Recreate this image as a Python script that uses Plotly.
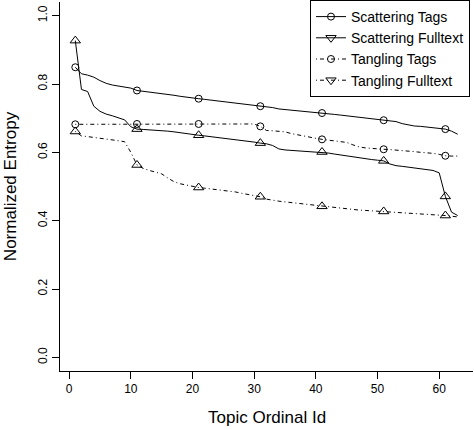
import plotly.graph_objects as go

topic_ids = list(range(1, 64))

scattering_tags = [
    0.849, 0.830, 0.826, 0.820, 0.810, 0.802, 0.797, 0.794, 0.792, 0.788,
    0.781, 0.779, 0.777, 0.775, 0.772, 0.770, 0.767, 0.764, 0.761, 0.759,
    0.757, 0.755, 0.753, 0.751, 0.749, 0.747, 0.745, 0.742, 0.740, 0.738,
    0.735, 0.734, 0.731, 0.727, 0.725, 0.724, 0.722, 0.721, 0.719, 0.717,
    0.715, 0.713, 0.711, 0.709, 0.707, 0.705, 0.703, 0.700, 0.698, 0.696,
    0.694, 0.693, 0.690, 0.684, 0.680, 0.677, 0.676, 0.674, 0.673, 0.671,
    0.668, 0.662, 0.653,
]

scattering_fulltext = [
    0.927, 0.784, 0.778, 0.735, 0.720, 0.712, 0.707, 0.702, 0.695, 0.675,
    0.668, 0.667, 0.666, 0.666, 0.665, 0.662, 0.660, 0.657, 0.655, 0.652,
    0.650, 0.648, 0.646, 0.644, 0.642, 0.640, 0.638, 0.636, 0.633, 0.630,
    0.627, 0.625, 0.620, 0.610, 0.607, 0.606, 0.605, 0.604, 0.603, 0.602,
    0.601, 0.598, 0.595, 0.592, 0.589, 0.586, 0.583, 0.581, 0.579, 0.577,
    0.575, 0.566, 0.561, 0.559, 0.557, 0.555, 0.553, 0.550, 0.547, 0.540,
    0.471, 0.425, 0.415,
]

tangling_tags = [
    0.682, 0.682, 0.682, 0.682, 0.682, 0.682, 0.682, 0.682, 0.682, 0.682,
    0.683, 0.683, 0.683, 0.683, 0.683, 0.683, 0.683, 0.683, 0.683, 0.683,
    0.683, 0.683, 0.683, 0.683, 0.683, 0.683, 0.683, 0.683, 0.683, 0.683,
    0.676, 0.664, 0.663, 0.662, 0.660, 0.655, 0.651, 0.647, 0.644, 0.641,
    0.638, 0.636, 0.633, 0.631, 0.629, 0.622, 0.616, 0.613, 0.611, 0.610,
    0.609, 0.608, 0.607, 0.605, 0.603, 0.602, 0.600, 0.599, 0.597, 0.594,
    0.590, 0.589, 0.589,
]

tangling_fulltext = [
    0.661, 0.648, 0.646, 0.644, 0.642, 0.639, 0.637, 0.634, 0.631, 0.600,
    0.563, 0.553, 0.547, 0.543, 0.537, 0.525, 0.514, 0.508, 0.504, 0.500,
    0.497, 0.495, 0.493, 0.491, 0.490, 0.487, 0.484, 0.480, 0.476, 0.473,
    0.470, 0.463, 0.459, 0.457, 0.455, 0.453, 0.451, 0.449, 0.447, 0.444,
    0.442, 0.439, 0.437, 0.436, 0.434, 0.433, 0.431, 0.430, 0.429, 0.428,
    0.427, 0.426, 0.425, 0.423, 0.422, 0.420, 0.419, 0.418, 0.417, 0.416,
    0.415, 0.413, 0.411,
]

series_names = ["Scattering Tags", "Scattering Fulltext", "Tangling Tags", "Tangling Fulltext"]
x_ticks = [0, 10, 20, 30, 40, 50, 60]
y_ticks = [0.0, 0.2, 0.4, 0.6, 0.8, 1.0]
y_ticktext = ["0.0", "0.2", "0.4", "0.6", "0.8", "1.0"]

FONT = "Liberation Sans, Arial, Helvetica, sans-serif"
DOTDASH = "1px,3px,4px,3px"

# (line dash, plot symbol, legend symbol, marker size)
styles = [
    ("solid", "circle-open", "circle-open", 7),
    ("solid", "triangle-up-open", "triangle-down-open", 9),
    (DOTDASH, "circle-open", "circle-open", 7),
    (DOTDASH, "triangle-up-open", "triangle-down-open", 9),
]
all_series = [scattering_tags, scattering_fulltext, tangling_tags, tangling_fulltext]

fig = go.Figure()
for name, ys, (dash, sym, leg_sym, msz) in zip(series_names, all_series, styles):
    # full line
    fig.add_trace(go.Scatter(
        x=topic_ids, y=ys, mode="lines", showlegend=False,
        line=dict(color="black", width=1, dash=dash), hoverinfo="skip"))
    # markers every 10th topic
    fig.add_trace(go.Scatter(
        x=topic_ids[::10], y=ys[::10], mode="markers", showlegend=False,
        marker=dict(symbol=sym, size=msz, color="black", line=dict(color="black", width=1))))
    # legend entry
    fig.add_trace(go.Scatter(
        x=[None], y=[None], mode="lines+markers", name=name,
        line=dict(color="black", width=1, dash=dash),
        marker=dict(symbol=leg_sym, size=msz, color="black", line=dict(color="black", width=1))))

fig.update_layout(
    width=474, height=430,
    margin=dict(l=60, r=1, t=1, b=59, pad=0),
    paper_bgcolor="white", plot_bgcolor="white",
    font=dict(family=FONT, color="black", size=12),
    showlegend=True,
    legend=dict(
        x=0.6053, y=1.003, xanchor="left", yanchor="top",
        bordercolor="black", borderwidth=1, bgcolor="white",
        font=dict(family=FONT, size=14, color="black"),
        tracegroupgap=0, itemwidth=30,
    ),
    xaxis=dict(
        range=[-1.48, 65.48], tickvals=x_ticks,
        showline=True, linecolor="black", linewidth=1,
        ticks="outside", ticklen=7, tickcolor="black", tickwidth=1,
        showgrid=False, zeroline=False,
        tickfont=dict(family=FONT, size=12, color="black"),
    ),
    yaxis=dict(
        range=[-0.04, 1.04], tickvals=y_ticks, ticktext=y_ticktext,
        tickangle=-90,
        showline=True, linecolor="black", linewidth=1,
        ticks="outside", ticklen=7, tickcolor="black", tickwidth=1,
        showgrid=False, zeroline=False,
        tickfont=dict(family=FONT, size=12, color="black"),
    ),
    annotations=[
        dict(text="Topic Ordinal Id", xref="paper", yref="paper",
             x=0.5, y=-0.127, xanchor="center", yanchor="middle",
             showarrow=False, font=dict(family=FONT, size=17, color="black")),
        dict(text="Normalized Entropy", xref="paper", yref="paper",
             x=-0.1195, y=0.5, xanchor="center", yanchor="middle", textangle=-90,
             showarrow=False, font=dict(family=FONT, size=17, color="black")),
    ],
)

fig.write_html("out.html")
